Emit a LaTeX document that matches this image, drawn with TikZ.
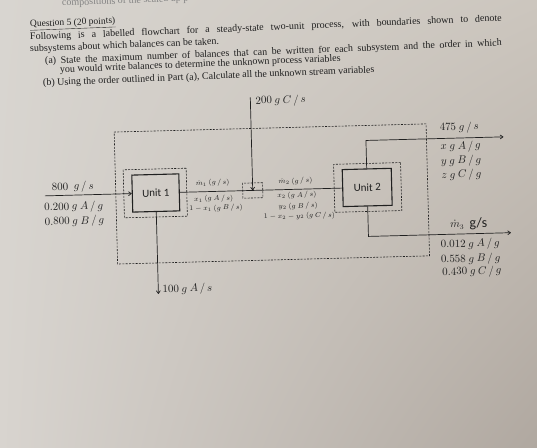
\documentclass[tikz,border=0pt]{standalone}
\usepackage{fontspec}
\usepackage{amsmath}
\setmainfont{Liberation Serif}
\newfontfamily\unitfont{Carlito}
\usetikzlibrary{arrows.meta,shadings}
\definecolor{paperUL}{RGB}{216,213,208}
\definecolor{paperUR}{RGB}{204,198,190}
\definecolor{paperLL}{RGB}{216,212,207}
\definecolor{paperLR}{RGB}{176,168,160}
\definecolor{ink}{RGB}{32,32,32}
\newcommand{\dv}{\mkern3mu/\mkern3mu}

\begin{document}
\begin{tikzpicture}[x=1pt,y=-1pt,unit/.style={draw=ink,line width=1.1pt,minimum width=47pt,minimum height=37pt,inner sep=0pt,font=\unitfont\fontsize{11}{13}\selectfont,text=ink},bound/.style={draw=ink,dash pattern=on 2pt off 1.3pt,line width=0.6pt,inner sep=0pt},stream/.style={draw=ink,line width=0.7pt},flow/.style={stream,-{To[length=3.5pt,width=4.5pt]}},lbl/.style={font=\fontsize{10.5}{12}\selectfont,text=ink,inner sep=0pt},slbl/.style={font=\fontsize{7.5}{9}\selectfont,text=ink,inner sep=0pt},txtline/.style={font=\fontsize{10}{12}\selectfont,text=ink,inner sep=0pt,anchor=base west,rotate=2.3}]
\def\lw{472pt};
\def\aw{457pt};

\shade[upper left=paperUL,upper right=paperUR,lower left=paperLL,lower right=paperLR] (0,0) rectangle (537,447);
\useasboundingbox (0,0) rectangle (537,447);

% question text
\node[txtline,text=ink!55] (prev) at (62,6) {compositions of the scaled up p};
\node[txtline,font=\fontsize{9.5}{12}\selectfont] (qhead) at (30,27) {\underline{Question 5 (20 points)}};
\node[txtline] (q1) at (30,40) {\makebox[\lw][s]{Following is a labelled flowchart for a steady-state two-unit process, with boundaries shown to denote}};
\node[txtline] (q2) at (30,52) {subsystems about which balances can be taken.};
\node[txtline] (qa) at (45,64) {\makebox[\aw][s]{(a) State the maximum number of balances that can be written for each subsystem and the order in which}};
\node[txtline] (qa2) at (60,72.7) {you would write balances to determine the unknown process variables};
\node[txtline] (qb) at (43,86) {(b) Using the order outlined in Part (a), Calculate all the unknown stream variables};

\begin{scope}[rotate around={1.5:(270,200)},transform shape]
% boundaries and units
\node[bound,minimum width=312pt,minimum height=132pt] (sys) at (272,194) {};
\node[bound,minimum width=63pt,minimum height=48pt] (b1) at (155.5,190) {};
\node[unit] (u1) at (156,190) {Unit 1};
\node[bound,minimum width=20pt,minimum height=15pt] (mix) at (253,190) {};
\node[bound,minimum width=67pt,minimum height=48pt] (b2) at (368,190) {};
\node[unit,minimum width=49pt] (u2) at (367.5,190) {Unit 2};

\coordinate (feed) at (45,190);
\coordinate (cin) at (253,97);
\coordinate (mixpt) at (253,190);
\coordinate (top) at (505,143);
\coordinate (bot) at (510,239);
\coordinate (waste) at (156,291);

% streams
\draw[flow] (feed) -- (u1);
\draw[stream] (u1) -- (u2);
\draw[flow] (cin) -- (mixpt);
\draw[flow] (u2.north) |- (top);
\draw[flow] (u2.south) |- (bot);
\draw[flow] (u1.south) -- (waste);

% stream labels
\node[lbl,anchor=west] (cC) at (258,101) {$200\ g\ C\dv s$};
\node[lbl,anchor=west,font=\fontsize{11}{12}\selectfont] (fF) at (52,182) {$800\ \ g\dv s$};
\node[lbl,anchor=west] (fA) at (44,202) {$0.200\ g\ A\dv g$};
\node[lbl,anchor=west] (fB) at (44,216.5) {$0.800\ g\ B\dv g$};

\node[slbl,anchor=west] (m1) at (196,181.5) {$\dot{m}_1\ (g\dv s)$};
\node[slbl,anchor=west] (x1) at (194,197.5) {$x_1\ (g\ A\dv s)$};
\node[slbl,anchor=west] (r1) at (189,207) {$1-x_1\ (g\ B\dv s)$};

\node[slbl] (m2) at (296,182) {$\dot{m}_2\ (g\dv s)$};
\node[slbl] (x2) at (297,196) {$x_2\ (g\ A\dv s)$};
\node[slbl] (y2) at (298,207) {$y_2\ (g\ B\dv s)$};
\node[slbl] (r2) at (299,217) {$1-x_2-y_2\ (g\ C\dv s)$};

\node[lbl] (tF) at (461,132.5) {$475\ g\dv s$};
\node[lbl] (tA) at (462,151.5) {$x\ g\ A\dv g$};
\node[lbl] (tB) at (462,166) {$y\ g\ B\dv g$};
\node[lbl] (tC) at (462,180) {$z\ g\ C\dv g$};

\node[lbl] (bF) at (468,229) {$\dot{m}_3$\ \ {\unitfont\fontsize{14}{14}\selectfont g/s}};
\node[lbl] (bA) at (469,249.5) {$0.012\ g\ A\dv g$};
\node[lbl] (bB) at (469,264.5) {$0.558\ g\ B\dv g$};
\node[lbl] (bC) at (470,277) {$0.430\ g\ C\dv g$};

\node[lbl,anchor=west] (wA) at (160,287) {$100\ g\ A\dv s$};
\end{scope}
\end{tikzpicture}
\end{document}
